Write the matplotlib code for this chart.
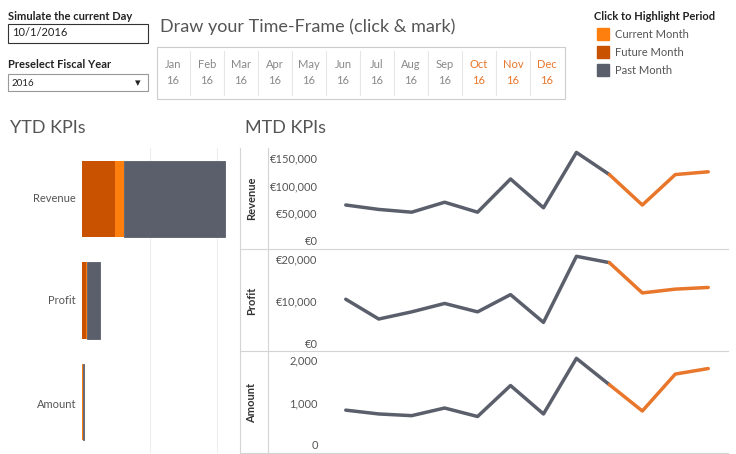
import matplotlib
matplotlib.use("Agg")
import matplotlib.pyplot as plt
from matplotlib.patches import Rectangle
from matplotlib.ticker import FuncFormatter

plt.rcParams["font.family"] = "Lato"

W, H = 736, 454
months = ["Jan", "Feb", "Mar", "Apr", "May", "Jun", "Jul", "Aug", "Sep", "Oct", "Nov", "Dec"]
year_label = "16"
revenue = [65000, 57000, 52000, 70000, 52000, 112000, 60000, 160000, 120000, 65000, 120000, 125000]
profit = [10400, 5700, 7400, 9400, 7400, 11500, 4900, 20600, 19100, 11900, 12800, 13200]
amount = [820, 730, 690, 870, 670, 1400, 730, 2040, 1420, 800, 1670, 1800]
current_idx = 9  # October

GRAY = "#5a5f6b"
ORANGE = "#ff7f0e"
DARK_OR = "#c85200"
LINE_OR = "#e8762b"
TXT = "#555555"


def ax_px(fig, x0, y0, x1, y1):
    return fig.add_axes([x0 / W, 1 - y1 / H, (x1 - x0) / W, (y1 - y0) / H])


fig = plt.figure(figsize=(W / 100, H / 100), dpi=100)

def t(x, y, s, **kw):
    fig.text(x / W, 1 - y / H, s, va="center", **kw)

# --- header widgets
t(8, 16, "Simulate the current Day", fontsize=8, color="#222222", fontweight="bold")
fig.patches.append(Rectangle((8 / W, 1 - 43 / H), 140 / W, 19 / H, transform=fig.transFigure,
                             fill=False, edgecolor="#333333", lw=0.8))
t(12, 33, "10/1/2016", fontsize=8, color="#222222")
t(8, 65, "Preselect Fiscal Year", fontsize=8, color="#222222", fontweight="bold")
fig.patches.append(Rectangle((8 / W, 1 - 91 / H), 140 / W, 17 / H, transform=fig.transFigure,
                             fill=False, edgecolor="#999999", lw=0.8))
t(12, 83, "2016", fontsize=7, color="#222222")
t(135, 83, "▾", fontsize=8, color="#222222", family="DejaVu Sans")
t(160, 27, "Draw your Time-Frame (click & mark)", fontsize=13, color=TXT)

fig.patches.append(Rectangle((157 / W, 1 - 99 / H), 408 / W, 52 / H, transform=fig.transFigure,
                             fill=False, edgecolor="#cccccc", lw=0.8))
for i, m in enumerate(months):
    cx = 173 + i * 34
    c = "#e8762b" if i >= current_idx else "#888888"
    t(cx, 65, m, fontsize=8, color=c, ha="center")
    t(cx, 81, year_label, fontsize=8, color=c, ha="center")
    if i > 0:
        fig.lines.append(plt.Line2D([(cx - 17) / W] * 2, [1 - 95 / H, 1 - 51 / H],
                                    transform=fig.transFigure, color="#e6e6e6", lw=0.8))

t(594, 16, "Click to Highlight Period", fontsize=8, color="#222222", fontweight="bold")
for j, (lab, col) in enumerate([("Current Month", ORANGE), ("Future Month", DARK_OR), ("Past Month", GRAY)]):
    y = 34 + j * 18
    fig.patches.append(Rectangle((597 / W, 1 - (y + 6) / H), 12 / W, 12 / H,
                                 transform=fig.transFigure, color=col))
    t(615, y, lab, fontsize=8, color=TXT)

t(10, 128, "YTD KPIs", fontsize=13, color=TXT)
t(245, 128, "MTD KPIs", fontsize=13, color=TXT)

# --- YTD stacked bars
ax = ax_px(fig, 80, 148, 240, 453)
series = [("Revenue", revenue), ("Profit", profit), ("Amount", amount)]
for k, (name, vals) in enumerate(series):
    fut = sum(vals[current_idx + 1:])
    cur = vals[current_idx]
    past = sum(vals[:current_idx])
    ax.barh(k, fut, color=DARK_OR, height=0.75)
    ax.barh(k, cur, left=fut, color=ORANGE, height=0.75)
    ax.barh(k, past, left=fut + cur, color=GRAY, height=0.75, edgecolor=GRAY, lw=0.6)
    fig.text(76 / W, 1 - (198 + k * 103) / H, name, ha="right", va="center", fontsize=8, color=TXT)
ax.set_ylim(2.5, -0.5)
ax.set_xlim(-15000, 1170000)
for gx in [500000, 1000000]:
    ax.axvline(gx, color="#eeeeee", lw=0.8, zorder=0)
ax.set_xticks([]); ax.set_yticks([])
for s in ax.spines.values():
    s.set_visible(False)

# --- MTD lines
eur = lambda v, p: "€0" if v == 0 else f"€{v:,.0f}"
panels = [
    ("Revenue", revenue, (-14500, 168000), eur, [0, 50000, 100000, 150000]),
    ("Profit", profit, (-1900, 22100), eur, [0, 10000, 20000]),
    ("Amount", amount, (-190, 2190), lambda v, p: f"{v:,.0f}", [0, 1000, 2000]),
]
rows = [(148, 249), (250, 351), (352, 453)]
x = list(range(12))
for (name, vals, lim, fmt, ticks), (y0, y1) in zip(panels, rows):
    a = ax_px(fig, 326, y0, 728, y1)
    a.plot(x[:current_idx], vals[:current_idx], color=GRAY, lw=2.5, solid_capstyle="round")
    a.plot(x[current_idx - 1:], vals[current_idx - 1:], color=LINE_OR, lw=2.5, solid_capstyle="round")
    a.set_xlim(-0.6, 11.6)
    a.set_ylim(*lim)
    a.set_yticks(ticks)
    a.yaxis.set_major_formatter(FuncFormatter(fmt))
    a.tick_params(axis="y", labelsize=8, colors=TXT, length=0, pad=6)
    a.set_xticks([])
    for s in a.spines.values():
        s.set_visible(False)
    a.set_ylabel(name, fontsize=8, color="#333333", fontweight="bold")
    a.yaxis.set_label_coords(-0.172, 0.5)
    fig.lines.append(plt.Line2D([240 / W, 728 / W], [1 - y1 / H] * 2, transform=fig.transFigure,
                                color="#d4d4d4", lw=0.8))

for xl in (240, 268):
    fig.lines.append(plt.Line2D([xl / W] * 2, [0, 1 - 148 / H], transform=fig.transFigure,
                                color="#d4d4d4", lw=0.8))

fig.savefig("out.png", dpi=100)
